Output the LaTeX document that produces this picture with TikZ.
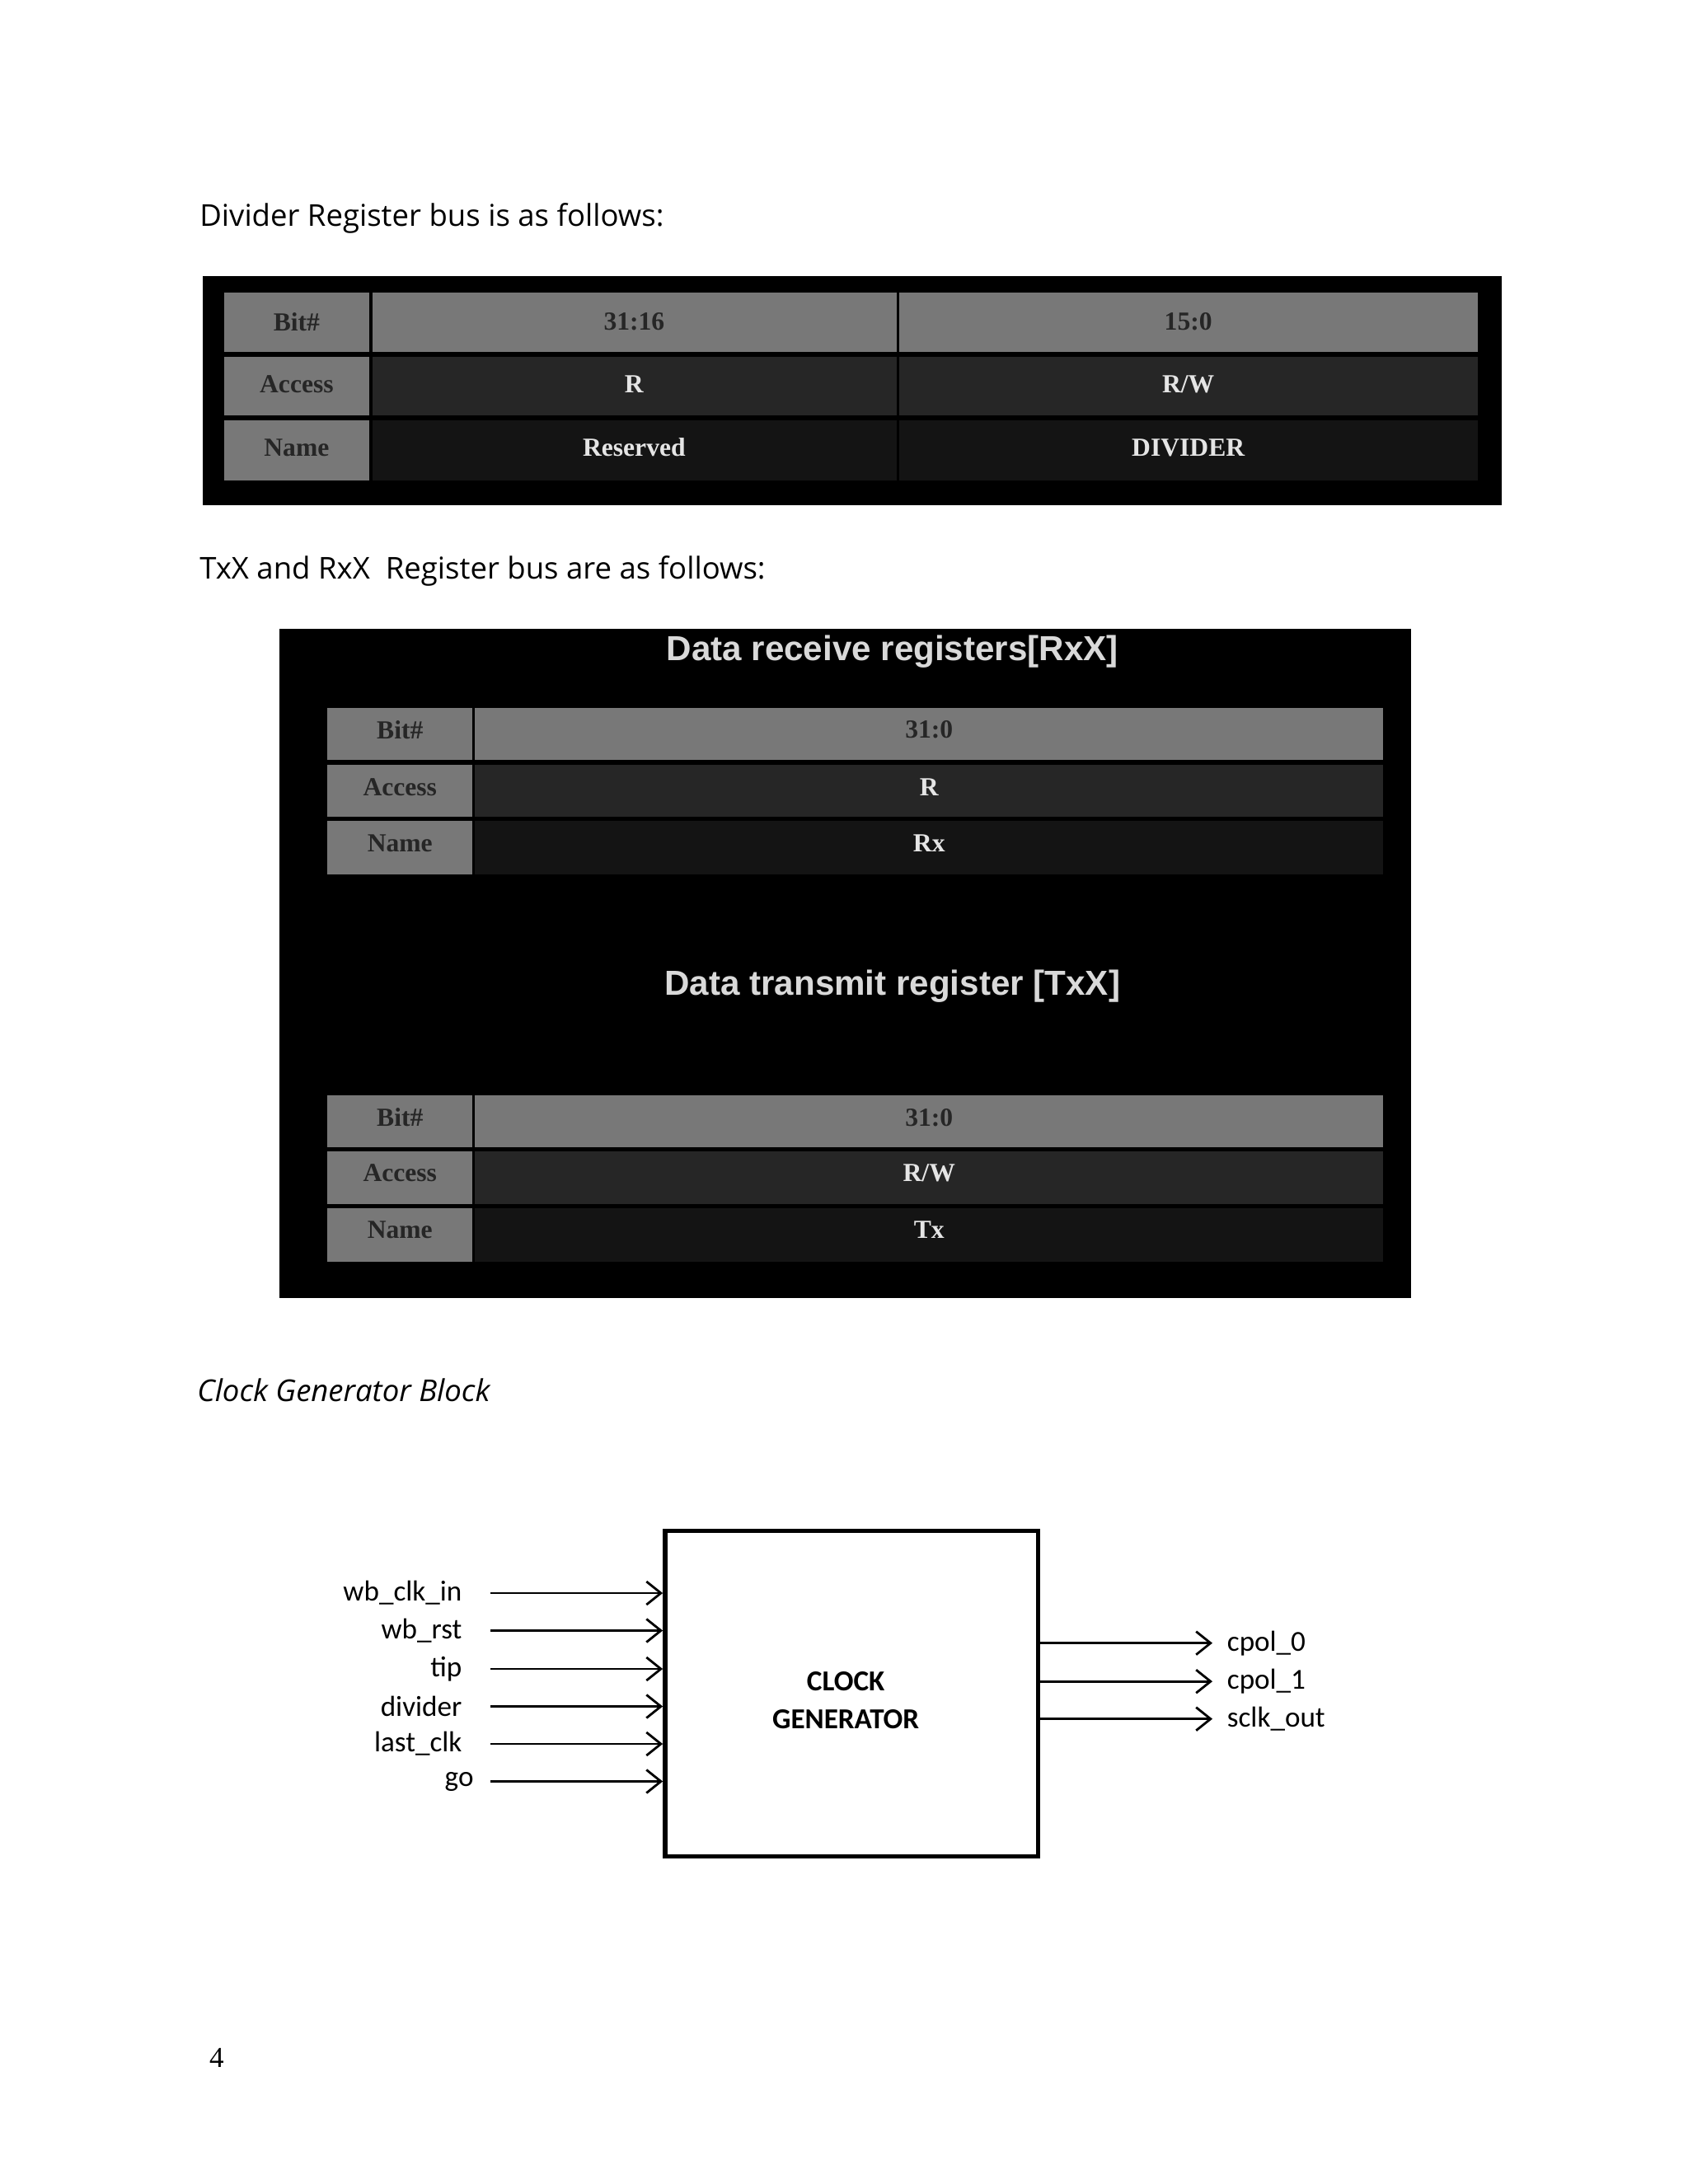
\documentclass[tikz,border=0pt]{standalone}
\usepackage{fontspec}
\setmainfont{Liberation Serif}
\newfontfamily\osans{Open Sans}
\newfontfamily\calfont{Carlito}
\newfontfamily\arl{Liberation Sans}
\usetikzlibrary{arrows.meta}
\definecolor{hdr}{HTML}{787878}
\definecolor{rowa}{HTML}{262626}
\definecolor{rowb}{HTML}{141414}
\tikzset{
 body/.style={font=\osans\fontsize{10.4}{12}\selectfont,anchor=west,inner sep=0},
 ttxt/.style={font=\bfseries\fontsize{9}{11}\selectfont,text=black!85},
 wtxt/.style={font=\bfseries\fontsize{9}{11}\selectfont,text=white!90!black},
 title/.style={font=\arl\bfseries\fontsize{12}{13}\selectfont,text=white!85!black},
 sig/.style={font=\calfont\fontsize{10}{12}\selectfont,inner sep=0},
 arr/.style={-{Straight Barb[length=5pt,width=8pt]},line width=0.8pt},
}
\begin{document}
\begin{tikzpicture}[x=0.01011cm,y=-0.01011cm]
\useasboundingbox (0,0) rectangle (2025.7,2621.2);
\fill[white] (0,0) rectangle (2025.7,2621.2);
\node[body] (t1) at (239,262) {Divider Register bus is as follows:};
% table 1
\fill[black] (243,331) rectangle (1802,606);
\fill[hdr] (269,351) rectangle (443,422);
\fill[hdr] (447,351) rectangle (1076,422);
\fill[hdr] (1079,351) rectangle (1773,422);
\fill[hdr] (269,428) rectangle (443,499);
\fill[rowa] (447,428) rectangle (1076,499);
\fill[rowa] (1079,428) rectangle (1773,499);
\fill[hdr] (269,504) rectangle (443,577);
\fill[rowb] (447,504) rectangle (1076,577);
\fill[rowb] (1079,504) rectangle (1773,577);
\node[ttxt] (a1) at (356,386) {Bit\#};
\node[ttxt] (a2) at (761,386) {31:16};
\node[ttxt] (a3) at (1426,386) {15:0};
\node[ttxt] (b1) at (356,461) {Access};
\node[wtxt] (b2) at (761,461) {R};
\node[wtxt] (b3) at (1426,461) {R/W};
\node[ttxt] (c1) at (356,537) {Name};
\node[wtxt] (c2) at (761,537) {Reserved};
\node[wtxt] (c3) at (1426,537) {DIVIDER};
\node[body] (t2) at (239,685) {TxX and RxX\ \ Register bus are as follows:};
% big table
\fill[black] (335,755) rectangle (1693,1558);
\node[title] (r0) at (1071,782) {Data receive registers[RxX]};
\fill[hdr] (393,850) rectangle (567,912);
\fill[hdr] (570,850) rectangle (1660,912);
\fill[hdr] (393,918) rectangle (567,980);
\fill[rowa] (570,918) rectangle (1660,980);
\fill[hdr] (393,985) rectangle (567,1049);
\fill[rowb] (570,985) rectangle (1660,1049);
\node[ttxt] (d1) at (480,876) {Bit\#};
\node[ttxt] (d2) at (1115,876) {31:0};
\node[ttxt] (e1) at (480,945) {Access};
\node[wtxt] (e2) at (1115,945) {R};
\node[ttxt] (f1) at (480,1012) {Name};
\node[wtxt] (f2) at (1115,1012) {Rx};
\node[title] (x0) at (1071,1184) {Data transmit register [TxX]};
\fill[hdr] (393,1315) rectangle (567,1377);
\fill[hdr] (570,1315) rectangle (1660,1377);
\fill[hdr] (393,1382) rectangle (567,1445);
\fill[rowa] (570,1382) rectangle (1660,1445);
\fill[hdr] (393,1450) rectangle (567,1514);
\fill[rowb] (570,1450) rectangle (1660,1514);
\node[ttxt] (g1) at (480,1341) {Bit\#};
\node[ttxt] (g2) at (1115,1341) {31:0};
\node[ttxt] (h1) at (480,1408) {Access};
\node[wtxt] (h2) at (1115,1408) {R/W};
\node[ttxt] (i1) at (480,1476) {Name};
\node[wtxt] (i2) at (1115,1476) {Tx};
\node[body,font=\osans\itshape\fontsize{10.4}{12}\selectfont] (cg) at (236,1668) {Clock Generator Block};
% clock generator
\node[draw,line width=1.6pt,minimum width=4.529cm,minimum height=3.953cm,inner sep=0] (box) at (1022,2032.5) {};
\node[sig,font=\calfont\bfseries\fontsize{10}{12}\selectfont] (k1) at (1015,2018) {CLOCK};
\node[sig,font=\calfont\bfseries\fontsize{10}{12}\selectfont] (k2) at (1015,2063) {GENERATOR};
\foreach \n/\y/\lab/\lx in {1/1912/wb\_clk\_in/555, 2/1957/wb\_rst/555, 3/2003/tip/555, 4/2048/divider/555, 5/2093/last\_clk/555, 6/2138/go/569}{
  \coordinate (s\n) at (589,\y);
  \node[sig,anchor=east] (l\n) at (\lx,\y) {\lab};
  \draw[arr] (s\n) -- (s\n -| box.west);
}
\foreach \n/\y/\lab in {1/1972/cpol\_0, 2/2018/cpol\_1, 3/2063/sclk\_out}{
  \coordinate (p\n) at (1455,\y);
  \node[sig,anchor=west] (q\n) at (1472,\y) {\lab};
  \draw[arr] (p\n -| box.east) -- (p\n);
}
\node[font=\fontsize{10}{12}\selectfont] (pg) at (260,2470) {4};
\end{tikzpicture}
\end{document}
